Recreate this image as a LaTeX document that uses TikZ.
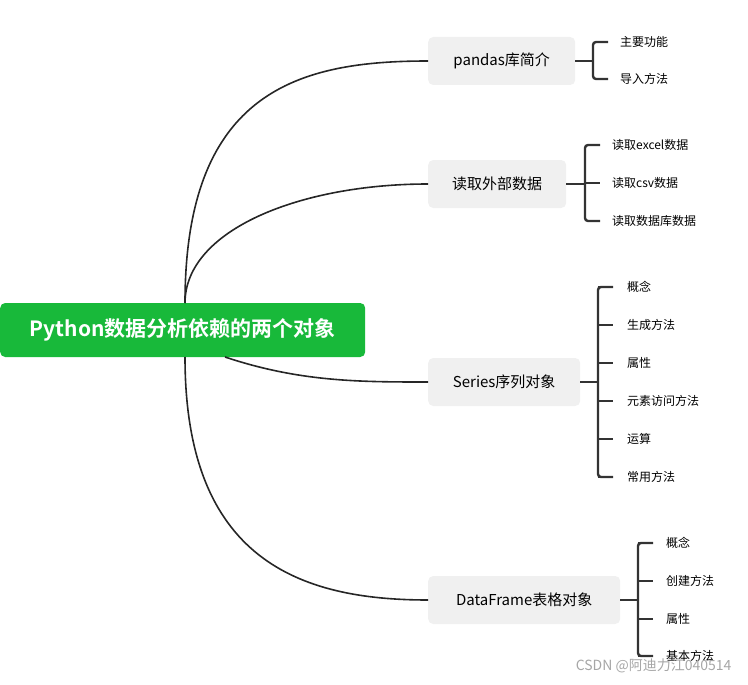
\documentclass[tikz,border=0pt]{standalone}
\usepackage{fontspec}
\setmainfont{Noto Sans CJK SC}
\newfontfamily\cjkb{Noto Sans CJK SC Bold}
\begin{document}
\begin{tikzpicture}[x=1pt,y=-1pt,
  branch/.style={fill=gray!12,rounded corners=5pt,minimum height=48pt,anchor=west,font=\fontsize{15}{18}\selectfont,inner xsep=0pt},
  leaf/.style={anchor=west,font=\fontsize{12}{14}\selectfont,inner sep=0pt},
  link/.style={draw=black!85,line width=1.6pt},
  brk/.style={draw=black!80,line width=2.4pt,rounded corners=3pt}]
\useasboundingbox (0,0) rectangle (748,685);
\node[fill={rgb,255:red,24;green,185;blue,58},rounded corners=5pt,anchor=west,minimum height=54pt,minimum width=365pt,text=white,font=\cjkb\fontsize{21}{25}\selectfont] (root) at (0,330) {Python数据分析依赖的两个对象};
\node[branch,minimum width=147pt] (b1) at (428,61) {pandas库简介};
\node[branch,minimum width=138pt] (b2) at (428,184) {读取外部数据};
\node[branch,minimum width=152pt] (b3) at (428,382) {Series序列对象};
\node[branch,minimum width=192pt] (b4) at (428,600) {DataFrame表格对象};
\coordinate (o1) at (185,303);
\coordinate (o3) at (225,357);
\coordinate (o4) at (185,357);
\draw[link] (o1) .. controls (185,90) and (300,61) .. (b1.west);
\draw[link] (o1) .. controls (185,230) and (300,184) .. (b2.west);
\draw[link] (o3) .. controls (300,382) and (360,382) .. (b3.west);
\draw[link] (o4) .. controls (185,560) and (300,600) .. (b4.west);
% leaves
\node[leaf] (l11) at (620,42) {主要功能};
\node[leaf] (l12) at (620,79) {导入方法};
\draw[brk] (b1.east) -- (593,61);
\draw[brk] (608,42) -- (593,42) -- (593,79) -- (608,79);
\node[leaf] (l21) at (612,145) {读取excel数据};
\node[leaf] (l22) at (612,183) {读取csv数据};
\node[leaf] (l23) at (612,221) {读取数据库数据};
\draw[brk] (b2.east) -- (585,184);
\draw[brk] (600,145) -- (585,145) -- (585,221) -- (600,221);
\draw[brk] (585,183) -- (600,183);
\foreach \t/\y [count=\i] in {概念/287,生成方法/325,属性/363,元素访问方法/401,运算/439,常用方法/477}
  {\node[leaf] (l3\i) at (627,\y) {\t}; \draw[brk] (598,\y) -- (613,\y);}
\draw[brk] (b3.east) -- (598,382);
\draw[brk] (613,287) -- (598,287) -- (598,477) -- (613,477);
\foreach \t/\y [count=\i] in {概念/543,创建方法/581,属性/619,基本方法/656}
  {\node[leaf] (l4\i) at (666,\y) {\t}; \draw[brk] (638,\y) -- (653,\y);}
\draw[brk] (b4.east) -- (638,600);
\draw[brk] (653,543) -- (638,543) -- (638,656) -- (653,656);
\node[anchor=east,text=gray!70,font=\fontsize{14}{16}\selectfont] (wm) at (735,666) {CSDN @阿迪力江040514};
\end{tikzpicture}
\end{document}
